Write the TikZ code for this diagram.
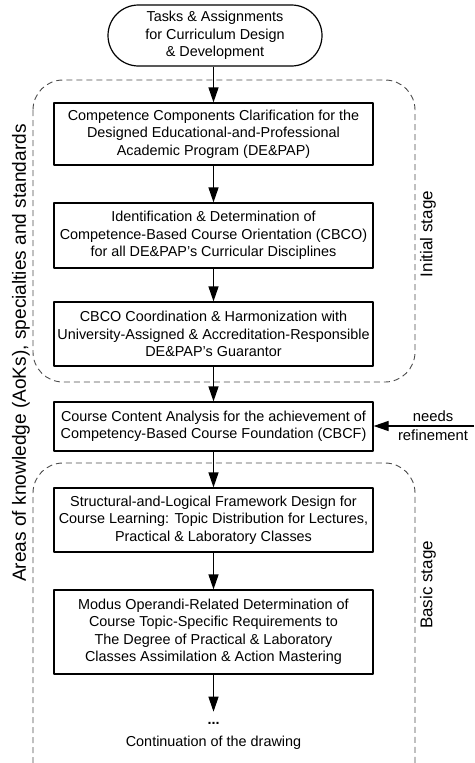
\documentclass[tikz,border=0pt]{standalone}
\usepackage{fontspec}
\setmainfont{Liberation Sans}
\usetikzlibrary{arrows.meta,shapes.misc}
\begin{document}
\begin{tikzpicture}[x=1pt,y=-1pt,>={Triangle[length=15pt,width=10pt]},line join=round,
    font=\fontsize{14.4}{17.5}\selectfont,
    stepbox/.style={draw,line width=1.2pt,align=center,minimum width=319pt,inner sep=2pt},
    stage/.style={draw=black!70,dash pattern=on 6pt off 4pt,line width=.9pt,rounded corners=30pt},
    link/.style={->,line width=1.2pt}]
    \useasboundingbox (0,0) rectangle (474,763);
    % stages (dashed frames)
    \draw[stage] (33,80) rectangle (415,382);
    \draw[stage] (33,763)--(33,463)--(415,463)--(415,763);
    \node[rotate=90,font=\fontsize{17}{20}\selectfont] (init) at (428,234) {Initial stage};
    \node[rotate=90,font=\fontsize{17}{20}\selectfont] (basic) at (428,585) {Basic stage};
    \node[rotate=90,font=\fontsize{19.1}{22}\selectfont] (aoks) at (21,353)
        {Areas of knowledge (AoKs), specialties and standards};
    % steps
    \node[draw,line width=1.2pt,rounded rectangle,align=center,minimum width=218pt,minimum height=61pt,inner sep=2pt]
        (tasks) at (215,35.5) {Tasks \& Assignments\\for Curriculum Design\\\& Development};
    \node[stepbox,minimum height=62pt] (cc) at (213.5,134)
        {Competence Components Clarification for the\\Designed Educational-and-Professional\\Academic Program (DE\&PAP)};
    \node[stepbox,minimum height=65pt] (cbco) at (213.5,235.5)
        {Identification \& Determination of\\Competence-Based Course Orientation (CBCO)\\for all DE\&PAP's Curricular Disciplines};
    \node[stepbox,minimum height=64pt] (harm) at (213.5,334)
        {CBCO Coordination \& Harmonization with\\University-Assigned \& Accreditation-Responsible\\DE\&PAP's Guarantor};
    \node[stepbox,minimum height=49pt] (cbcf) at (213.5,426.5)
        {Course Content Analysis for the achievement of\\Competency-Based Course Foundation (CBCF)};
    \node[stepbox,minimum height=64pt] (frame) at (213.5,520)
        {Structural-and-Logical Framework Design for\\Course Learning: Topic Distribution for Lectures,\\Practical \& Laboratory Classes};
    \node[stepbox,minimum height=84pt] (modus) at (213.5,632)
        {Modus Operandi-Related Determination of\\Course Topic-Specific Requirements to\\The Degree of Practical \& Laboratory\\Classes Assimilation \& Action Mastering};
    \node[inner sep=0pt] (dots) at (213.5,723) {\textbf{...}};
    \node (cont) at (213.5,743) {Continuation of the drawing};
    \node[align=center,font=\fontsize{14.8}{19}\selectfont] (needs) at (433,426) {needs\\refinement};
    \coordinate (feed) at (474,426);
    % arrows
    \draw[link] (tasks.south-|cc.north)--(cc);
    \foreach \a/\b in {cc/cbco,cbco/harm,harm/cbcf,cbcf/frame,frame/modus}
    \draw[link] (\a)--(\b);
    \draw[link,shorten >=10pt] (modus.south)--(dots.north);
    \draw[link] (feed)--(cbcf.east|-feed);
\end{tikzpicture}
\end{document}
